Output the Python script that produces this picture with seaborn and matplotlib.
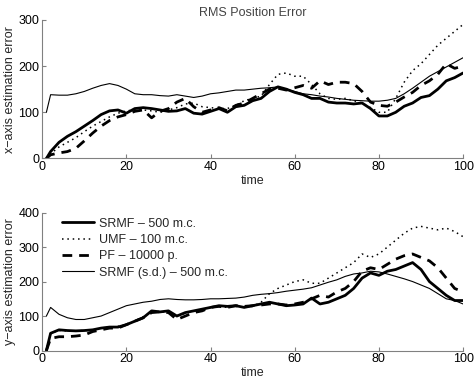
import numpy as np
import pandas as pd
import matplotlib
matplotlib.use('Agg')
import matplotlib.pyplot as plt
import seaborn as sns

# time samples
t = [1] + list(range(2, 101, 2))

# x-axis estimation error (top panel)
x_srmf = [0, 15, 35, 48, 58, 70, 82, 95, 103, 105,
          98, 108, 110, 108, 105, 102, 103, 108, 98, 96,
          102, 108, 100, 112, 115, 125, 130, 145, 155, 150,
          143, 138, 130, 130, 122, 120, 120, 118, 120, 108,
          92, 92, 100, 113, 120, 132, 136, 150, 168, 175,
          185]
x_umf = [0, 10, 25, 35, 45, 58, 70, 80, 90, 98,
         103, 105, 105, 103, 100, 105, 110, 118, 120, 112,
         110, 108, 108, 115, 125, 130, 135, 160, 182, 185,
         178, 178, 160, 140, 130, 128, 130, 125, 120, 110,
         100, 100, 130, 165, 190, 205, 225, 245, 260, 275,
         290]
x_pf = [0, 8, 12, 15, 22, 38, 55, 70, 82, 90,
        95, 102, 105, 88, 102, 108, 122, 130, 112, 100,
        105, 110, 103, 115, 120, 130, 140, 150, 152, 148,
        153, 158, 152, 168, 160, 165, 165, 162, 145, 122,
        115, 113, 122, 133, 143, 158, 168, 182, 205, 195,
        200]
x_sd = [100, 138, 137, 137, 140, 145, 152, 158, 162, 158,
        150, 140, 138, 138, 136, 135, 138, 135, 132, 135,
        140, 142, 145, 148, 148, 150, 152, 153, 155, 150,
        145, 140, 138, 135, 133, 130, 128, 126, 125, 124,
        124, 126, 130, 140, 152, 165, 178, 188, 198, 208,
        218]

# y-axis estimation error (bottom panel)
y_srmf = [0, 50, 60, 58, 57, 58, 60, 65, 68, 68,
          75, 85, 95, 115, 112, 115, 100, 110, 115, 120,
          125, 130, 128, 130, 125, 130, 135, 140, 135, 130,
          132, 135, 152, 135, 140, 150, 160, 180, 210, 225,
          218, 230, 235, 245, 255, 235, 200, 180, 160, 145,
          145]
y_umf = [0, 50, 58, 57, 57, 58, 60, 65, 68, 70,
         75, 85, 98, 112, 112, 113, 102, 108, 115, 118,
         125, 128, 125, 128, 125, 128, 140, 165, 180, 190,
         200, 205, 195, 195, 210, 225, 240, 255, 280, 270,
         280, 300, 320, 340, 355, 360, 355, 350, 355, 345,
         330]
y_pf = [0, 35, 40, 40, 42, 45, 55, 60, 65, 65,
        75, 85, 95, 110, 112, 110, 90, 100, 110, 115,
        125, 128, 125, 130, 128, 130, 132, 135, 135, 132,
        135, 140, 150, 160, 155, 170, 180, 200, 230, 240,
        235, 250, 265, 275, 280, 270, 260, 240, 210, 180,
        170]
y_sd = [100, 125, 105, 95, 90, 90, 95, 100, 110, 120,
        130, 135, 140, 143, 148, 150, 148, 147, 147, 148,
        150, 150, 151, 152, 155, 160, 163, 165, 168, 172,
        175, 178, 182, 190, 198, 205, 215, 222, 225, 230,
        228, 222, 215, 208, 200, 190, 180, 165, 150, 145,
        135]

labels = ['SRMF – 500 m.c.', 'UMF – 100 m.c.', 'PF – 10000 p.', 'SRMF (s.d.) – 500 m.c.']

sns.set_style('ticks')
plt.rcParams['font.family'] = ['Liberation Sans', 'DejaVu Sans']
plt.rcParams['font.size'] = 9
plt.rcParams['axes.edgecolor'] = '#808080'
plt.rcParams['xtick.color'] = '#808080'
plt.rcParams['ytick.color'] = '#808080'
plt.rcParams['xtick.labelcolor'] = 'black'
plt.rcParams['ytick.labelcolor'] = 'black'

styles = [
    dict(color='black', linewidth=2.0, linestyle='-'),
    dict(color='black', linewidth=1.1, linestyle=(0, (1, 2.5))),
    dict(color='black', linewidth=2.0, linestyle=(0, (3.5, 2.5))),
    dict(color='black', linewidth=0.8, linestyle='-'),
]

fig = plt.figure(figsize=(4.74, 3.81), dpi=100)
ax1 = fig.add_axes([0.089, 0.584, 0.888, 0.364])
ax2 = fig.add_axes([0.089, 0.080, 0.888, 0.362])

for ax, series in [(ax1, [x_srmf, x_umf, x_pf, x_sd]), (ax2, [y_srmf, y_umf, y_pf, y_sd])]:
    for vals, lab, st in zip(series, labels, styles):
        sns.lineplot(x=t, y=vals, ax=ax, label=lab, **st)
    ax.set_xlim(0, 100)
    ax.set_xticks([0, 20, 40, 60, 80, 100])
    ax.set_xlabel('time', labelpad=1)
    ax.tick_params(direction='in', length=3, width=0.8, pad=2, labelsize=9)
    sns.despine(ax=ax)
    ax.spines['left'].set_linewidth(0.8)
    ax.spines['bottom'].set_linewidth(0.8)

ax1.set_ylim(0, 300)
ax1.set_yticks([0, 100, 200, 300])
ax1.set_ylabel('x−axis estimation error', labelpad=2)
ax1.set_title('RMS Position Error', fontsize=9, color='#444444', pad=3)
ax1.get_legend().remove()

ax2.set_ylim(0, 400)
ax2.set_yticks([0, 100, 200, 300, 400])
ax2.set_ylabel('y−axis estimation error', labelpad=2)
ax2.legend(loc='upper left', frameon=False, fontsize=9, handlelength=2.6,
           handletextpad=0.4, labelspacing=0.35, borderaxespad=0.0,
           bbox_to_anchor=(0.035, 1.0))

fig.savefig('out.png', dpi=100)
